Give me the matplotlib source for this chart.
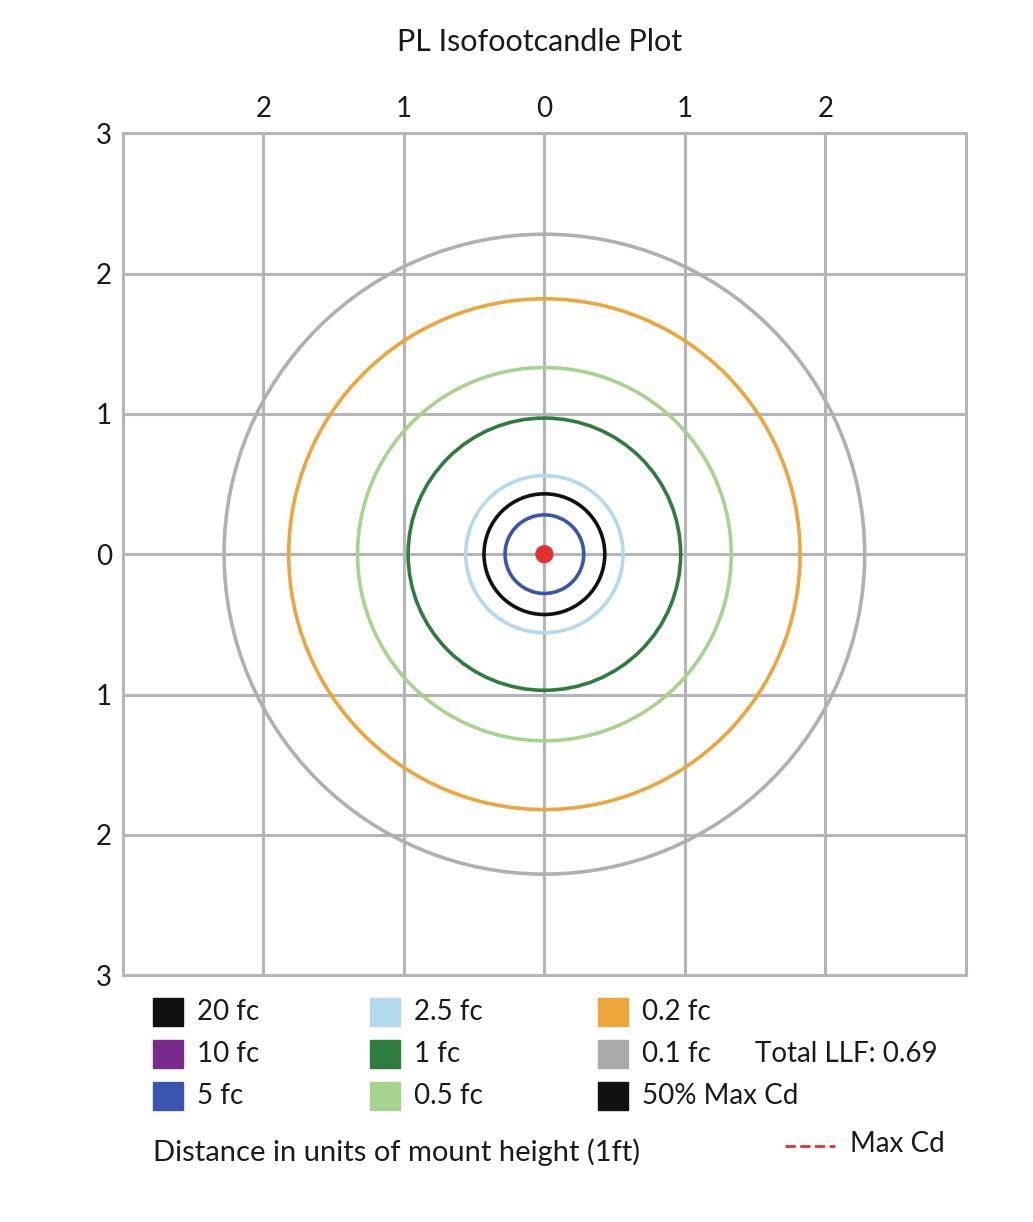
import matplotlib.pyplot as plt
from matplotlib.patches import Circle, Rectangle
from matplotlib.lines import Line2D

plt.rcParams['font.family'] = ['Lato', 'DejaVu Sans']

# isofootcandle contours (radius in mount heights)
levels = ['0.1 fc', '0.2 fc', '0.5 fc', '1 fc', '2.5 fc', '20 fc', '5 fc']
radii = [2.28, 1.82, 1.33, 0.97, 0.56, 0.43, 0.28]
colors = ['#b0b0b0', '#eea53a', '#a6d38e', '#2e7d3e', '#b3d9ee', '#111111', '#3a55b0']
max_cd_radius = 0.06

x_ticks = [-2, -1, 0, 1, 2]
y_ticks = [-3, -2, -1, 0, 1, 2, 3]

legend_items = [('20 fc', '#111111'), ('10 fc', '#7a2a8a'), ('5 fc', '#3a55b0'),
                ('2.5 fc', '#b3d9ee'), ('1 fc', '#2e7d3e'), ('0.5 fc', '#a6d38e'),
                ('0.2 fc', '#eea53a'), ('0.1 fc', '#aaaaaa'), ('50% Max Cd', '#111111')]

TXT = '#1a1a1a'

fig = plt.figure(figsize=(10.33, 12.22), dpi=100)
ax = fig.add_axes([0.119, 0.202, 0.816, 0.689])
ax.set_xlim(-3, 3)
ax.set_ylim(-3, 3)

for v in [-2, -1, 0, 1, 2]:
    ax.axvline(v, color='#b5b5b5', lw=2.2, zorder=1)
    ax.axhline(v, color='#b5b5b5', lw=2.2, zorder=1)
for s in ax.spines.values():
    s.set_color('#b5b5b5')
    s.set_linewidth(2.2)

for r, c in zip(radii, colors):
    ax.add_patch(Circle((0, 0), r, fill=False, ec=c, lw=2.6, zorder=3))
ax.add_patch(Circle((0, 0), max_cd_radius, color='#e53030', zorder=4))

ax.xaxis.tick_top()
ax.set_xticks(x_ticks)
ax.set_xticklabels([str(abs(v)) for v in x_ticks])
ax.set_yticks(y_ticks)
ax.set_yticklabels([str(abs(v)) for v in y_ticks])
ax.tick_params(length=0, labelsize=20, colors=TXT, pad=8)
for t in ax.get_xticklabels():
    t.set_x(t.get_position()[0])

fig.text(0.522, 0.966, 'PL Isofootcandle Plot', ha='center', va='center', fontsize=22, color=TXT)

# legend, three columns of three rows
col_x = [153, 370, 598]
row_y = [1012, 1054, 1096]
W, H = 1033, 1222
for i, (lab, c) in enumerate(legend_items):
    cx = col_x[i // 3]
    cy = row_y[i % 3]
    fig.patches.append(Rectangle((cx / W, 1 - (cy + 14) / H), 30 / W, 28 / H,
                                 transform=fig.transFigure, color=c))
    fig.text((cx + 44) / W, 1 - cy / H, lab, fontsize=20, va='center', color=TXT)

fig.text(755 / W, 1 - 1054 / H, 'Total LLF: 0.69', fontsize=20, va='center', color=TXT)
fig.text(153 / W, 1 - 1152 / H, 'Distance in units of mount height (1ft)', fontsize=21,
         va='center', color=TXT)
fig.lines.append(Line2D([785 / W, 835 / W], [1 - 1146 / H] * 2, transform=fig.transFigure,
                        color='#e53030', ls='--', lw=2))
fig.text(850 / W, 1 - 1144 / H, 'Max Cd', fontsize=20, va='center', color=TXT)

fig.savefig('out.png')
